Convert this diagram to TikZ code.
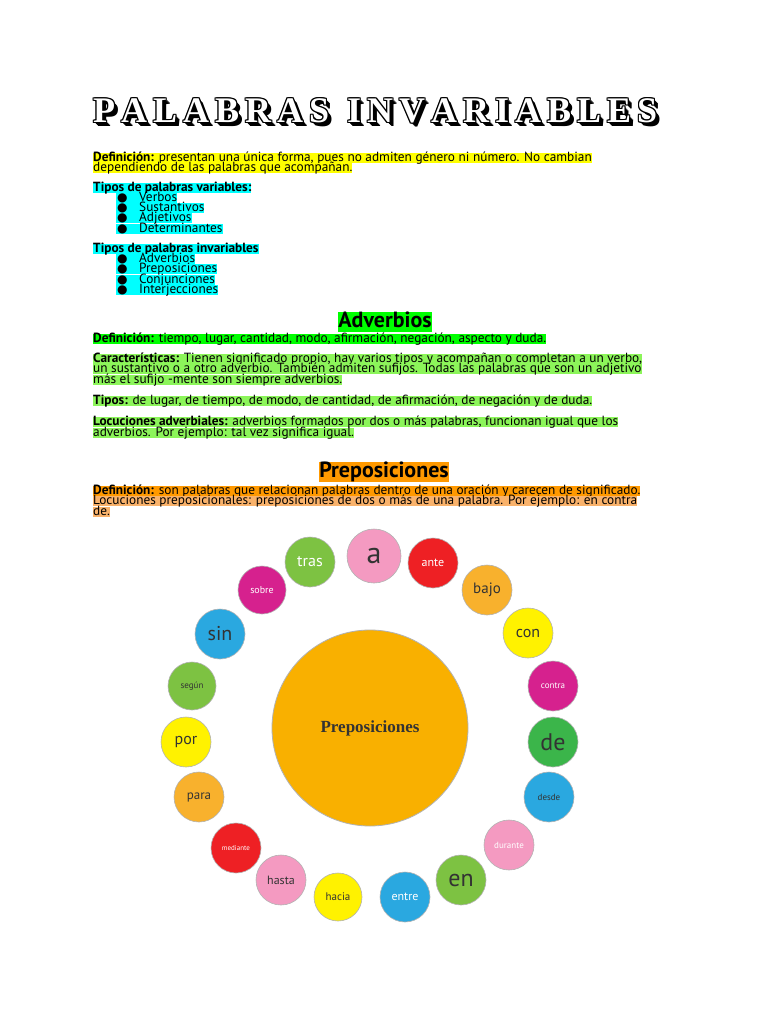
\documentclass[tikz,border=0pt]{standalone}
\usepackage{fontspec}
\setmainfont{PT Sans}
\newfontfamily\titlefont{Liberation Serif}
\newfontfamily\dejavu{DejaVu Sans}
\newfontfamily\serifb{Liberation Serif}
\definecolor{hy}{HTML}{FFFF00}
\definecolor{hc}{HTML}{00FFFF}
\definecolor{hg}{HTML}{00FF00}
\definecolor{hlg}{HTML}{8CF55A}
\definecolor{ho}{HTML}{FF9900}
\definecolor{hlo}{HTML}{F9B26B}
\definecolor{cgreen}{HTML}{7DC242}
\definecolor{cpink}{HTML}{F49AC1}
\definecolor{cred}{HTML}{EE2024}
\definecolor{cmag}{HTML}{D6218E}
\definecolor{corange}{HTML}{F8B12D}
\definecolor{cblue}{HTML}{2AA8E0}
\definecolor{cyel}{HTML}{FFF200}
\definecolor{cdgreen}{HTML}{3BB54A}
\definecolor{cbig}{HTML}{F9B000}
\begin{document}
\begin{tikzpicture}[x=1pt,y=-1pt,
  ln/.style={anchor=west,inner sep=0pt,text height=8.8pt,text depth=2pt,font=\fontsize{13.3}{13}\selectfont},
  hd/.style={anchor=center,inner sep=0pt,text height=15.5pt,text depth=4pt,font=\bfseries\fontsize{22}{22}\selectfont},
  pc/.style={circle,draw=gray!60,line width=0.6pt,text=white,inner sep=0pt}]
\useasboundingbox (0,0) rectangle (768,1024);
\fill[white] (0,0) rectangle (768,1024);
% title
\foreach \dx/\dy in {3/3,4/4,2/2,-1/0,1/0,0/-1,0/1,-1/-1,1/1,-1/1,1/-1}{\node[anchor=west,inner sep=0pt,font=\titlefont\bfseries\fontsize{36}{36}\selectfont,text=black] at (93+\dx,111+\dy) {P\,A\,L\,A\,B\,R\,A\,S\ \ I\,N\,V\,A\,R\,I\,A\,B\,L\,E\,S};}
\node[anchor=west,inner sep=0pt,font=\titlefont\bfseries\fontsize{36}{36}\selectfont,text=white] (title) at (93,111) {P\,A\,L\,A\,B\,R\,A\,S\ \ I\,N\,V\,A\,R\,I\,A\,B\,L\,E\,S};
% definition
\node[ln,fill=hy] (d1) at (93,158) {\textbf{Definición:} presentan una única forma, pues no admiten género ni número. No cambian};
\node[ln,fill=hy] (d2) at (93,168) {dependiendo de las palabras que acompañan.};
\node[ln,fill=hc] (t1) at (93,188) {\textbf{Tipos de palabras variables:}};
\foreach \y/\t [count=\i] in {198/Verbos,208/Sustantivos,218/Adjetivos,229/Determinantes}{
  \node[ln,fill=hc] (v\i) at (116,\y) {\makebox[23pt][l]{\dejavu\fontsize{12}{12}\selectfont\kern1pt●}\t};}
\node[ln,fill=hc] (t2) at (93,249) {\textbf{Tipos de palabras invariables}};
\foreach \y/\t [count=\i] in {259/Adverbios,269/Preposiciones,280/Conjunciones,290/Interjecciones}{
  \node[ln,fill=hc] (w\i) at (116,\y) {\makebox[23pt][l]{\dejavu\fontsize{12}{12}\selectfont\kern1pt●}\t};}
% adverbios
\node[hd,fill=hg] (adv) at (385,322) {Adverbios};
\node[ln,fill=hg] (a1) at (93,339) {\textbf{Definición:} tiempo, lugar, cantidad, modo, afirmación, negación, aspecto y duda.};
\node[ln,fill=hlg] (a2) at (93,359) {\textbf{Características:} Tienen significado propio, hay varios tipos y acompañan o completan a un verbo,};
\node[ln,fill=hlg] (a3) at (93,369) {un sustantivo o a otro adverbio. También admiten sufijos. Todas las palabras que son un adjetivo};
\node[ln,fill=hlg] (a4) at (93,380) {más el sufijo -mente son siempre adverbios.};
\node[ln,fill=hlg] (a5) at (93,401) {\textbf{Tipos:} de lugar, de tiempo, de modo, de cantidad, de afirmación, de negación y de duda.};
\node[ln,fill=hlg] (a6) at (93,422) {\textbf{Locuciones adverbiales:} adverbios formados por dos o más palabras, funcionan igual que los};
\node[ln,fill=hlg] (a7) at (93,433) {adverbios. Por ejemplo: tal vez significa igual.};
% preposiciones
\node[hd,fill=ho] (pre) at (384,472) {Preposiciones};
\node[ln,fill=ho] (p1) at (93,491) {\textbf{Definición:} son palabras que relacionan palabras dentro de una oración y carecen de significado.};
\node[ln,fill=hlo] (p2) at (93,501) {Locuciones preposicionales: preposiciones de dos o más de una palabra. Por ejemplo: en contra};
\node[ln,fill=hlo] (p3) at (93,512) {de.};
% circles
\node[circle,draw=gray!60,line width=0.8pt,fill=cbig,minimum size=196pt,inner sep=0pt,font=\serifb\bfseries\fontsize{17}{17}\selectfont,text=black!80] (big) at (370,728) {Preposiciones};
\foreach \x/\y/\r/\c/\t/\fs/\tc [count=\i] in {
 310/562/25/cgreen/tras/16/white, 374/556/27/cpink/a/30/black!80, 433/563/25/cred/ante/12/white,
 262/590/24/cmag/sobre/10/white, 487/590/25/corange/bajo/15/black!80, 220/634/25/cblue/sin/20/black!80,
 528/633/25/cyel/con/16/black!80, 192/686/24/cgreen/según/9/black!80, 553/686/25/cmag/contra/9/white,
 186/742/25/cyel/por/16/black!80, 553/742/25/cdgreen/de/24/black!80, 199/797/25/corange/para/13/black!80,
 549/797/25/cblue/desde/9/black!80, 236/848/25/cred/mediante/7/white, 509/845/25/cpink/durante/9/white,
 281/880/25/cpink/hasta/12/black!80, 461/880/25/cgreen/en/24/black!80, 338/897/24/cyel/hacia/11/black!80,
 405/897/25/cblue/entre/12/white}{
  \node[pc,fill=\c,minimum size=2*\r pt,text=\tc,font=\fontsize{\fs}{\fs}\selectfont] (c\i) at (\x,\y) {\t};}
\end{tikzpicture}
\end{document}
